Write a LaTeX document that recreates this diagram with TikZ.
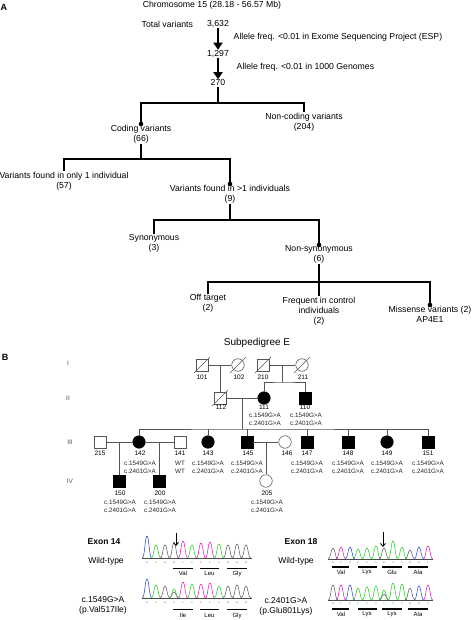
\documentclass[tikz,border=0pt]{standalone}
\usepackage{fontspec}
\setmainfont{Liberation Sans}
\usetikzlibrary{arrows.meta,calc}
\definecolor{pedcol}{RGB}{85,85,85}
\definecolor{tblue}{RGB}{50,70,210}
\definecolor{tgreen}{RGB}{40,205,40}
\definecolor{tpink}{RGB}{225,30,175}
\definecolor{tgray}{RGB}{95,95,95}
\newcommand{\pk}[4]{\draw[#4,line width=0.55pt] ({#1-4.8},#2) .. controls ({#1-2.2},#2) and ({#1-2},{#2-#3}) .. (#1,{#2-#3}) .. controls ({#1+2},{#2-#3}) and ({#1+2.2},#2) .. ({#1+4.8},#2);}
\tikzset{
  ft/.style={font=\fontsize{8.7}{10}\selectfont, align=center, inner sep=0.5pt},
  tl/.style={line width=1.4pt},
  ml/.style={draw=pedcol, line width=0.6pt, rectangle, minimum size=12pt, inner sep=0pt},
  fm/.style={draw=pedcol, line width=0.6pt, circle, minimum size=12.5pt, inner sep=0pt},
  aff/.style={fill=black, draw=black},
  pl/.style={draw=pedcol, line width=0.6pt},
  num/.style={font=\fontsize{6.5}{7}\selectfont, inner sep=0pt, text=black},
  geno/.style={font=\fontsize{6.3}{8}\selectfont, align=center, inner sep=0pt, text=black!85},
  gen/.style={font=\fontsize{6.5}{7}\selectfont, inner sep=0pt, text=pedcol},
  bl/.style={font=\fontsize{2.6}{3}\selectfont, inner sep=0pt},
  cod/.style={font=\fontsize{6}{7}\selectfont, inner sep=0pt},
  sl/.style={font=\fontsize{8.5}{10}\selectfont, align=center, inner sep=0pt},
  cbar/.style={line width=1.1pt},
  sarr/.style={-{Straight Barb[length=3pt,width=5pt]}, line width=0.8pt}
}
\begin{document}
\begin{tikzpicture}[x=1pt,y=-1pt]
\useasboundingbox (0,0) rectangle (474,620);
% ---------------- Panel A ----------------
\node[font=\bfseries\fontsize{9}{10}\selectfont, inner sep=0] (labA) at (4,7) {A};
\node[ft,anchor=north,inner sep=0pt] (chrom) at (212,0.6) {Chromosome 15 (28.18 - 56.57 Mb)};
\node[ft,anchor=west] (totlab) at (141,24) {Total variants};
\node[ft] (n3632) at (218,24) {3,632};
\node[ft] (n1297) at (218,54) {1,297};
\node[ft] (n270) at (218,83) {270};
\node[ft,anchor=west] (esp) at (233,37) {Allele freq. <0.01 in Exome Sequencing Project (ESP)};
\node[ft,anchor=west] (kg) at (236,67) {Allele freq. <0.01 in 1000 Genomes};
\draw[line width=2.4pt, -{Triangle[length=7pt,width=9pt]}] (n3632.south) -- (n1297.north);
\draw[line width=2.4pt, -{Triangle[length=7pt,width=9pt]}] (n1297.south) -- (n270.north);

\coordinate (b1) at (218,103);
\node[ft,anchor=north] (coding) at (141,124) {Coding variants\\(66)};
\node[ft,anchor=north] (noncod) at (304,112) {Non-coding variants\\(204)};
\draw[tl] (n270.south) -- (b1);
\draw[tl] (coding.north) |- (b1) -| (noncod.north);
\fill (coding.north) circle (2.3);

\coordinate (b2) at (141,159);
\node[ft,anchor=north] (only1) at (64,171) {Variants found in only 1 individual\\(57)};
\node[ft,anchor=north] (gt1) at (230,184) {Variants found in >1 individuals\\(9)};
\draw[tl] (coding.south) -- (b2);
\draw[tl] (only1.north) |- (b2) -| (gt1.north);
\fill (gt1.north) circle (2.3);

\coordinate (b3) at (230,220);
\node[ft,anchor=north] (syn) at (154,234) {Synonymous\\(3)};
\node[ft,anchor=north] (nonsyn) at (319,245) {Non-synonymous\\(6)};
\draw[tl] (gt1.south) -- (b3);
\draw[tl] (syn.north) |- (b3) -| (nonsyn.north);
\fill (nonsyn.north) circle (2.3);

\coordinate (b4) at (319,282);
\node[ft,anchor=north] (off) at (208,294) {Off target\\(2)};
\node[ft,anchor=north] (freq) at (319,296) {Frequent in control\\individuals\\(2)};
\node[ft,anchor=north] (miss) at (430,305) {Missense variants (2)\\AP4E1};
\draw[tl] (nonsyn.south) -- (b4);
\draw[tl] (off.north) |- (b4) -| (miss.north);
\draw[tl] (freq.north) -- (freq.north |- b4);
\fill (miss.north) circle (2.3);

% ---------------- Panel B ----------------
\node[font=\bfseries\fontsize{9}{10}\selectfont, inner sep=0] (labB) at (5,357) {B};
\node[font=\fontsize{10}{12}\selectfont, inner sep=0] (subE) at (257,343) {Subpedigree E};
\node[gen] (gI) at (68,363) {I};
\node[gen] (gII) at (68,398) {II};
\node[gen] (gIII) at (70,442) {III};
\node[gen] (gIV) at (70,481) {IV};

% generation I
\node[ml] (i101) at (202,365) {};
\node[fm] (i102) at (238,365) {};
\node[ml] (i210) at (263,365) {};
\node[fm] (i211) at (302,365) {};
\foreach \n in {i101,i102,i210,i211} {\draw[pl] ($(\n)+(-8,8)$) -- ($(\n)+(8,-8)$);}
\node[num] (l101) at (202,377) {101};
\node[num] (l102) at (239,377) {102};
\node[num] (l210) at (263,377) {210};
\node[num] (l211) at (303,377) {211};
\draw[pl] (i101) -- (i102);
\draw[pl] (i210) -- (i211);
\coordinate (m1) at ($(i101)!0.5!(i102)$);
\coordinate (m2) at ($(i210)!0.5!(i211)$);
\coordinate (s2) at (282.5,382);

% generation II
\node[ml] (i112) at (220,398) {};
\draw[pl] ($(i112)+(-8,8)$) -- ($(i112)+(8,-8)$);
\node[fm,aff] (i111) at (264,398) {};
\node[ml,aff] (i110) at (305,398) {};
\node[num] (l112) at (221,407) {112};
\node[num] (l111) at (264,407) {111};
\node[num] (l110) at (305,407) {110};
\node[geno] (g111) at (265,419) {c.1549G>A\\c.2401G>A};
\node[geno] (g110) at (306,419) {c.1549G>A\\c.2401G>A};
\draw[pl] (m1) -- (i112);
\draw[pl] (m2) -- (s2);
\draw[pl] (i111.north) |- (s2) -| (i110.north);
\draw[pl] (i112) -- (i111);
\coordinate (m3) at ($(i112)!0.5!(i111)$);
\coordinate (s3) at (242,429);

% generation III
\node[ml] (i215) at (100,442) {};
\node[fm,aff] (i142) at (139,442) {};
\node[ml] (i141) at (180,442) {};
\node[fm,aff] (i143) at (208,442) {};
\node[ml,aff] (i145) at (247,442) {};
\node[fm] (i146) at (285,442) {};
\node[ml,aff] (i147) at (307,442) {};
\node[ml,aff] (i148) at (348,442) {};
\node[fm,aff] (i149) at (387,442) {};
\node[ml,aff] (i151) at (428,442) {};
\draw[pl] (m3) -- (s3);
\draw[pl] (i142.north) |- (s3) -| (i151.north);
\foreach \n in {i143,i145,i147,i148,i149} {\draw[pl] (\n.north) -- (\n.north |- s3);}
\draw[pl] (i215) -- (i142);
\draw[pl] (i142) -- (i141);
\draw[pl] (i145) -- (i146);
\node[num] (l215) at (100,453) {215};
\node[num] (l142) at (140,453) {142};
\node[num] (l141) at (180,453) {141};
\node[num] (l143) at (208,453) {143};
\node[num] (l145) at (248,453) {145};
\node[num] (l146) at (287,453) {146};
\node[num] (l147) at (307,453) {147};
\node[num] (l148) at (348,453) {148};
\node[num] (l149) at (387,453) {149};
\node[num] (l151) at (428,453) {151};
\node[geno] (g142) at (140,467) {c.1549G>A\\c.2401G>A};
\node[geno] (g141) at (180,467) {WT\\WT};
\node[geno] (g143) at (208,467) {c.1549G>A\\c.2401G>A};
\node[geno] (g145) at (247,467) {c.1549G>A\\c.2401G>A};
\node[geno] (g147) at (307,467) {c.1549G>A\\c.2401G>A};
\node[geno] (g148) at (348,467) {c.1549G>A\\c.2401G>A};
\node[geno] (g149) at (387,467) {c.1549G>A\\c.2401G>A};
\node[geno] (g151) at (428,467) {c.1549G>A\\c.2401G>A};
\coordinate (m4) at ($(i215)!0.5!(i142)$);
\coordinate (m5) at ($(i142)!0.5!(i141)$);
\coordinate (m6) at ($(i145)!0.5!(i146)$);

% generation IV
\node[ml,aff] (i150) at (119.5,481) {};
\node[ml,aff] (i200) at (159.5,481) {};
\node[fm] (i205) at (266,481) {};
\draw[pl] (m4) -- (i150);
\draw[pl] (m5) -- (i200);
\draw[pl] (m6) -- (i205);
\node[num] (l150) at (120,493) {150};
\node[num] (l200) at (160,493) {200};
\node[num] (l205) at (267,493) {205};
\node[geno] (g150) at (120,506) {c.1549G>A\\c.2401G>A};
\node[geno] (g200) at (160,506) {c.1549G>A\\c.2401G>A};
\node[geno] (g205) at (267,506) {c.1549G>A\\c.2401G>A};

% ---------------- Chromatograms ----------------
\node[sl,font=\bfseries\fontsize{8.5}{10}\selectfont] (ex14) at (104,542) {Exon 14};
\node[sl] (wt14) at (106,561) {Wild-type};
\node[sl] (mut14) at (103,605) {c.1549G>A\\(p.Val517Ile)};
\node[sl,font=\bfseries\fontsize{8.5}{10}\selectfont] (ex18) at (301,542) {Exon 18};
\node[sl] (wt18) at (296,561) {Wild-type};
\node[sl] (mut18) at (286,606) {c.2401G>A\\(p.Glu801Lys)};

% exon 14 wild-type
\draw[black!70, line width=0.4pt] (142,558.3) -- (252,558.3);
\foreach \x/\h/\c in {147/22/tblue,156/13/tgreen,165/13/tgray,174/15/tgray,183/17/tpink,192/13/tgreen,201/15/tpink,210/16/tpink,219/14/tgreen,228/13/tgray,237/14/tgray,246/13/tgray} {\pk{\x}{558}{\h}{\c}}
\foreach \x/\c/\b in {147/tblue/C,156/tgreen/A,165/tgray/G,174/tgray/G,183/tpink/T,192/tgreen/A,201/tpink/T,210/tpink/T,219/tgreen/A,228/tgray/G,237/tgray/G,246/tgray/G} {\node[bl,text=\c] (bA\x) at (\x,562.5) {\b};}
\draw[cbar] (173,568.5) -- (193,568.5);
\draw[cbar] (200,568.5) -- (219,568.5);
\draw[cbar] (227,568.5) -- (247,568.5);
\node[cod] (cA1) at (183,573.5) {Val};
\node[cod] (cA2) at (209.5,573.5) {Leu};
\node[cod] (cA3) at (237,573.5) {Gly};
\coordinate (a14s) at (176,533);
\coordinate (a14e) at (176,546);
\draw[sarr] (a14s) -- (a14e);

% exon 14 mutant
\draw[black!70, line width=0.4pt] (142,598.3) -- (252,598.3);
\foreach \x/\h/\c in {147/19/tblue,156/13/tgreen,165/12/tgray,174/6/tgray,174/9/tgreen,183/16/tpink,192/14/tgreen,201/14/tpink,210/15/tpink,219/12/tgreen,228/12/tgray,237/13/tgray,246/12/tgray} {\pk{\x}{598}{\h}{\c}}
\foreach \x/\c/\b in {147/tblue/C,156/tgreen/A,165/tgray/G,174/tgreen/A,183/tpink/T,192/tgreen/A,201/tpink/T,210/tpink/T,219/tgreen/A,228/tgray/G,237/tgray/G,246/tgray/G} {\node[bl,text=\c] (bB\x) at (\x,602.5) {\b};}
\draw[cbar] (173,609.5) -- (193,609.5);
\draw[cbar] (200,609.5) -- (219,609.5);
\draw[cbar] (227,609.5) -- (247,609.5);
\node[cod] (cB1) at (183,615.5) {Ile};
\node[cod] (cB2) at (209.5,615.5) {Leu};
\node[cod] (cB3) at (237,615.5) {Gly};

% exon 18 wild-type
\draw[black!70, line width=0.4pt] (328,559.3) -- (433,559.3);
\foreach \x/\h/\c in {333/11/tgray,341/12/tpink,350/12/tblue,358/10/tgreen,367/11/tgreen,376/13/tgreen,384/11/tgray,393/18/tgreen,402/12/tgreen,410/9/tgray,419/12/tblue,428/13/tpink} {\pk{\x}{559}{\h}{\c}}
\foreach \x/\c/\b in {333/tgray/G,341/tpink/T,350/tblue/C,358/tgreen/A,367/tgreen/A,376/tgreen/A,384/tgray/G,393/tgreen/A,402/tgreen/A,410/tgray/G,419/tblue/C,428/tpink/T} {\node[bl,text=\c] (bC\x) at (\x,563) {\b};}
\draw[cbar] (332,567) -- (349,567);
\draw[cbar] (358,567) -- (377,567);
\draw[cbar] (382,567) -- (402,567);
\draw[cbar] (408,567) -- (428,567);
\node[cod] (cC1) at (341,572) {Val};
\node[cod] (cC2) at (367,572) {Lys};
\node[cod] (cC3) at (392,572) {Glu};
\node[cod] (cC4) at (418,572) {Ala};
\coordinate (a18s) at (383,532);
\coordinate (a18e) at (383,547);
\draw[sarr] (a18s) -- (a18e);

% exon 18 mutant
\draw[black!70, line width=0.4pt] (328,600.3) -- (433,600.3);
\foreach \x/\h/\c in {333/15/tgray,341/15/tpink,350/15/tblue,358/12/tgreen,367/13/tgreen,376/14/tgreen,384/6/tgray,384/10/tgreen,393/17/tgreen,402/16/tgreen,410/12/tgray,419/14/tblue,428/15/tpink} {\pk{\x}{600}{\h}{\c}}
\foreach \x/\c/\b in {333/tgray/G,341/tpink/T,350/tblue/C,358/tgreen/A,367/tgreen/A,376/tgreen/A,384/tgreen/A,393/tgreen/A,402/tgreen/A,410/tgray/G,419/tblue/C,428/tpink/T} {\node[bl,text=\c] (bD\x) at (\x,604) {\b};}
\draw[cbar] (332,609) -- (349,609);
\draw[cbar] (358,609) -- (377,609);
\draw[cbar] (382,609) -- (402,609);
\draw[cbar] (408,609) -- (428,609);
\node[cod] (cD1) at (341,614.5) {Val};
\node[cod] (cD2) at (367,614.5) {Lys};
\node[cod] (cD3) at (392,614.5) {Lys};
\node[cod] (cD4) at (418,614.5) {Ala};
\end{tikzpicture}
\end{document}
